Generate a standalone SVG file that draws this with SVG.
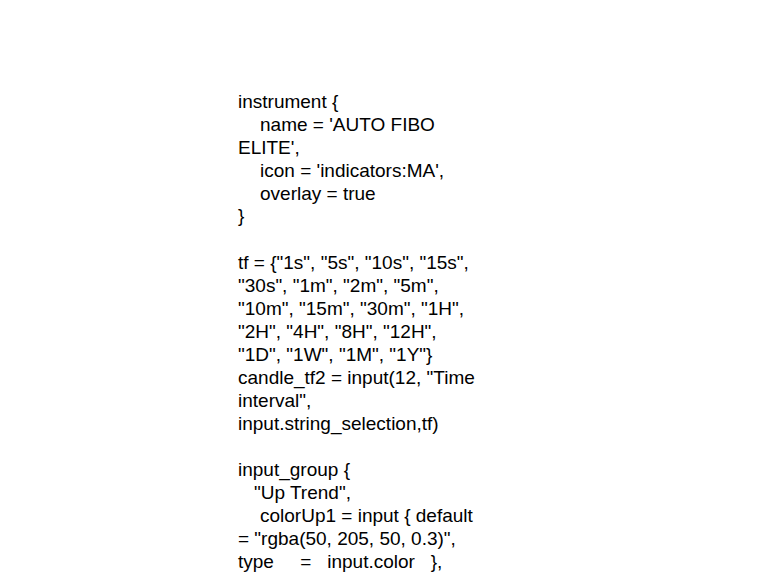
<svg xmlns="http://www.w3.org/2000/svg" width="768" height="576" viewBox="0 0 768 576">
<style>text{font-family:"Liberation Sans",Arial,sans-serif;font-size:19px;fill:#000;white-space:pre}</style>
<rect width="768" height="576" fill="#fff"/>
<g id="code">
<text x="238" y="108">instrument {</text>
<text x="260" y="131">name = 'AUTO FIBO</text>
<text x="238" y="154">ELITE',</text>
<text x="260" y="177">icon = 'indicators:MA',</text>
<text x="260" y="200">overlay = true</text>
<text x="238" y="222">}</text>
<text x="238" y="269">tf = {"1s", "5s", "10s", "15s",</text>
<text x="238" y="292">"30s", "1m", "2m", "5m",</text>
<text x="238" y="315">"10m", "15m", "30m", "1H",</text>
<text x="238" y="338">"2H", "4H", "8H", "12H",</text>
<text x="238" y="361">"1D", "1W", "1M", "1Y"}</text>
<text x="238" y="384">candle_tf2 = input(12, "Time</text>
<text x="238" y="407">interval",</text>
<text x="238" y="430">input.string_selection,tf)</text>
<text x="238" y="476">input_group {</text>
<text x="254" y="499">"Up Trend",</text>
<text x="260" y="522">colorUp1 = input { default</text>
<text x="238" y="545">= "rgba(50, 205, 50, 0.3)",</text>
<text x="238" y="568">type     =   input.color   },</text>
</g>
</svg>
